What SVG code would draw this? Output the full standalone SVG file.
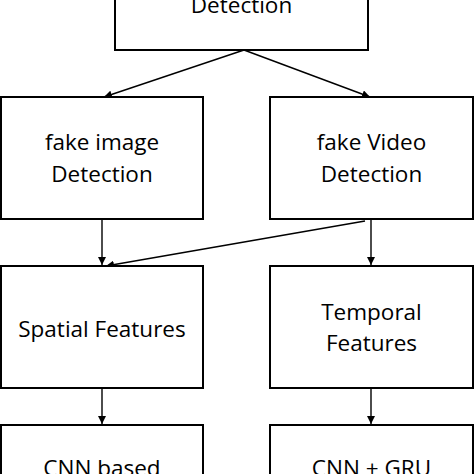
<svg xmlns="http://www.w3.org/2000/svg" width="474" height="474" viewBox="0 0 474 474">
<style>
.box{fill:#fff;stroke:#000;stroke-width:2}
.t{font-family:"Open Sans","Liberation Sans",sans-serif;font-size:22.5px;fill:#000;text-anchor:middle}
.c{stroke:#000;stroke-width:1.4;fill:none;marker-end:url(#ah)}
</style>
<defs>
<marker id="ah" viewBox="0 0 10 10" refX="10" refY="5" markerWidth="8" markerHeight="8" markerUnits="userSpaceOnUse" orient="auto">
<path d="M0,0 L10,5 L0,10 z" fill="#000"/>
</marker>
</defs>
<rect width="474" height="474" fill="#fff"/>
<g id="connectors">
<line class="c" x1="244" y1="50" x2="104" y2="97"/>
<line class="c" x1="244" y1="50" x2="370" y2="97"/>
<line class="c" x1="102" y1="219" x2="102" y2="265"/>
<line class="c" x1="371" y1="219" x2="371" y2="265"/>
<line class="c" x1="365" y1="221" x2="106" y2="266"/>
<line class="c" x1="102" y1="388" x2="102" y2="424"/>
<line class="c" x1="371" y1="388" x2="371" y2="424"/>
</g>
<g id="n-top">
<rect class="box" x="115" y="-20" width="253" height="70"/>
<text class="t" x="241.5" y="13">Detection</text>
</g>
<g id="n-image">
<rect class="box" x="1" y="97" width="202" height="122"/>
<text class="t" x="102" y="150">fake image</text>
<text class="t" x="102" y="182">Detection</text>
</g>
<g id="n-video">
<rect class="box" x="270" y="97" width="203" height="122"/>
<text class="t" x="371.5" y="150">fake Video</text>
<text class="t" x="371.5" y="182">Detection</text>
</g>
<g id="n-spatial">
<rect class="box" x="1" y="266" width="202" height="122"/>
<text class="t" x="102" y="337">Spatial Features</text>
</g>
<g id="n-temporal">
<rect class="box" x="270" y="266" width="203" height="122"/>
<text class="t" x="371.5" y="320">Temporal</text>
<text class="t" x="371.5" y="351">Features</text>
</g>
<g id="n-cnn">
<rect class="box" x="1" y="425" width="202" height="80"/>
<text class="t" x="102" y="476">CNN based</text>
</g>
<g id="n-gru">
<rect class="box" x="270" y="425" width="203" height="80"/>
<text class="t" x="371.5" y="476">CNN + GRU</text>
</g>
</svg>
